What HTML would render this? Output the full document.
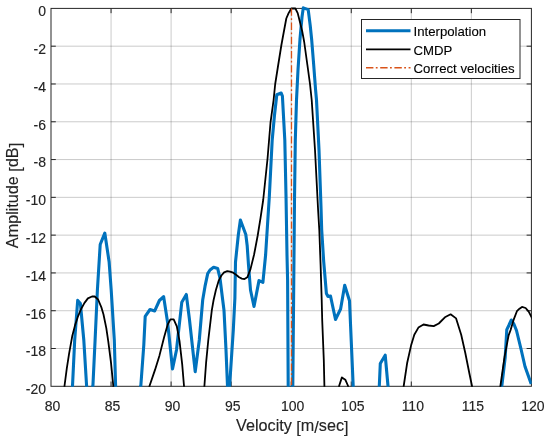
<!DOCTYPE html>
<html><head><meta charset="utf-8"><style>
html,body{margin:0;padding:0;background:#fff;}
svg{display:block;font-family:"Liberation Sans",Arial,Helvetica,sans-serif;}
text{stroke:currentColor;stroke-width:0.12px;}
</style></head><body>
<svg width="550" height="441" viewBox="0 0 550 441">
<rect width="550" height="441" fill="#fff"/>
<g stroke="#262626" stroke-opacity="0.24" stroke-width="1"><line x1="111.05" y1="8.4" x2="111.05" y2="386.3"/><line x1="171.10" y1="8.4" x2="171.10" y2="386.3"/><line x1="231.15" y1="8.4" x2="231.15" y2="386.3"/><line x1="291.20" y1="8.4" x2="291.20" y2="386.3"/><line x1="351.25" y1="8.4" x2="351.25" y2="386.3"/><line x1="411.30" y1="8.4" x2="411.30" y2="386.3"/><line x1="471.35" y1="8.4" x2="471.35" y2="386.3"/><line x1="51.0" y1="46.19" x2="531.4" y2="46.19"/><line x1="51.0" y1="83.98" x2="531.4" y2="83.98"/><line x1="51.0" y1="121.77" x2="531.4" y2="121.77"/><line x1="51.0" y1="159.56" x2="531.4" y2="159.56"/><line x1="51.0" y1="197.35" x2="531.4" y2="197.35"/><line x1="51.0" y1="235.14" x2="531.4" y2="235.14"/><line x1="51.0" y1="272.93" x2="531.4" y2="272.93"/><line x1="51.0" y1="310.72" x2="531.4" y2="310.72"/><line x1="51.0" y1="348.51" x2="531.4" y2="348.51"/></g>
<g stroke="#262626" stroke-width="1.0"><line x1="111.05" y1="386.3" x2="111.05" y2="381.50"/><line x1="111.05" y1="8.4" x2="111.05" y2="13.20"/><line x1="171.10" y1="386.3" x2="171.10" y2="381.50"/><line x1="171.10" y1="8.4" x2="171.10" y2="13.20"/><line x1="231.15" y1="386.3" x2="231.15" y2="381.50"/><line x1="231.15" y1="8.4" x2="231.15" y2="13.20"/><line x1="291.20" y1="386.3" x2="291.20" y2="381.50"/><line x1="291.20" y1="8.4" x2="291.20" y2="13.20"/><line x1="351.25" y1="386.3" x2="351.25" y2="381.50"/><line x1="351.25" y1="8.4" x2="351.25" y2="13.20"/><line x1="411.30" y1="386.3" x2="411.30" y2="381.50"/><line x1="411.30" y1="8.4" x2="411.30" y2="13.20"/><line x1="471.35" y1="386.3" x2="471.35" y2="381.50"/><line x1="471.35" y1="8.4" x2="471.35" y2="13.20"/><line x1="51.0" y1="46.19" x2="55.80" y2="46.19"/><line x1="531.4" y1="46.19" x2="526.60" y2="46.19"/><line x1="51.0" y1="83.98" x2="55.80" y2="83.98"/><line x1="531.4" y1="83.98" x2="526.60" y2="83.98"/><line x1="51.0" y1="121.77" x2="55.80" y2="121.77"/><line x1="531.4" y1="121.77" x2="526.60" y2="121.77"/><line x1="51.0" y1="159.56" x2="55.80" y2="159.56"/><line x1="531.4" y1="159.56" x2="526.60" y2="159.56"/><line x1="51.0" y1="197.35" x2="55.80" y2="197.35"/><line x1="531.4" y1="197.35" x2="526.60" y2="197.35"/><line x1="51.0" y1="235.14" x2="55.80" y2="235.14"/><line x1="531.4" y1="235.14" x2="526.60" y2="235.14"/><line x1="51.0" y1="272.93" x2="55.80" y2="272.93"/><line x1="531.4" y1="272.93" x2="526.60" y2="272.93"/><line x1="51.0" y1="310.72" x2="55.80" y2="310.72"/><line x1="531.4" y1="310.72" x2="526.60" y2="310.72"/><line x1="51.0" y1="348.51" x2="55.80" y2="348.51"/><line x1="531.4" y1="348.51" x2="526.60" y2="348.51"/></g>
<rect x="51.0" y="8.4" width="480.40" height="377.90" fill="none" stroke="#262626" stroke-width="1.0"/>
<defs><clipPath id="c"><rect x="50.70" y="5.40" width="481.00" height="381.40"/></clipPath></defs>
<g clip-path="url(#c)"><path d="M70.8,410.0 L72.5,386.0 L74.7,340.0 L77.7,300.4 L80.4,303.6 L83.8,340.0 L86.6,386.0 L89.7,410.0 L89.8,410.0 L92.9,386.0 L95.1,340.0 L97.4,290.0 L100.2,244.5 L104.8,233.1 L109.1,261.7 L111.2,290.0 L114.3,340.0 L115.6,386.0 L117.0,410.0 L138.5,410.0 L140.8,386.0 L143.8,345.0 L145.2,316.3 L150.0,309.5 L154.7,310.9 L159.4,300.5 L163.6,296.6 L167.7,323.1 L172.5,369.0 L176.5,350.0 L181.8,302.2 L186.3,294.5 L189.4,319.0 L195.2,371.7 L199.3,340.0 L202.7,300.0 L205.0,286.4 L207.7,273.6 L210.0,270.0 L213.6,267.3 L217.7,268.6 L220.0,278.2 L222.7,300.0 L224.0,310.4 L226.0,350.0 L227.5,386.0 L228.6,400.0 L229.6,386.0 L233.3,330.0 L234.9,298.0 L235.5,262.0 L238.3,235.0 L240.4,220.0 L245.8,234.5 L247.2,245.8 L248.5,265.0 L250.5,290.0 L254.0,306.5 L259.0,280.6 L262.9,282.4 L265.6,255.0 L267.5,225.0 L269.3,197.0 L272.2,140.0 L274.5,115.0 L276.8,94.8 L281.2,93.0 L282.4,96.0 L284.8,140.0 L286.0,195.0 L287.0,255.0 L287.6,280.0 L288.2,386.0 L290.5,400.0 L292.8,386.0 L293.5,310.0 L294.0,255.0 L294.5,200.0 L295.3,140.0 L296.5,100.0 L298.0,70.0 L300.0,39.0 L302.0,17.0 L303.3,7.9 L308.2,9.6 L310.2,25.4 L311.7,40.0 L313.7,65.0 L315.6,90.0 L316.5,100.0 L319.0,150.0 L321.0,207.0 L321.7,230.0 L323.7,261.7 L326.4,293.5 L328.0,296.5 L330.5,296.0 L335.5,319.5 L340.6,309.0 L344.7,285.2 L349.5,300.8 L353.2,386.0 L354.0,400.0" fill="none" stroke="#0072BD" stroke-width="3.1" stroke-linejoin="round"/><path d="M378.8,400.0 L379.3,386.0 L380.3,363.5 L385.2,355.2 L388.0,386.0 L388.5,400.0" fill="none" stroke="#0072BD" stroke-width="3.1" stroke-linejoin="round"/><path d="M501.3,400.0 L501.8,386.0 L505.2,357.2 L506.8,329.6 L508.8,325.5 L511.3,320.0 L513.9,324.0 L516.5,330.5 L521.0,349.0 L525.0,366.5 L531.2,384.0" fill="none" stroke="#0072BD" stroke-width="3.1" stroke-linejoin="round"/><path d="M64.0,400.0 L64.5,386.0 L66.8,368.3 L69.1,353.6 L72.2,336.3 L75.0,325.4 L77.7,317.2 L81.1,309.0 L84.5,302.9 L87.9,298.4 L92.0,296.5 L94.7,296.5 L98.1,299.5 L101.5,307.7 L103.5,314.5 L106.3,328.1 L108.3,341.7 L111.0,362.7 L113.3,386.0 L114.0,400.0" fill="none" stroke="#000" stroke-width="1.8" stroke-linejoin="round"/><path d="M148.0,400.0 L149.5,386.0 L155.0,369.9 L159.5,355.4 L164.1,337.2 L167.7,324.5 L170.4,319.4 L173.7,319.4 L176.8,326.3 L179.5,340.9 L182.2,364.4 L184.0,386.0 L184.5,400.0" fill="none" stroke="#000" stroke-width="1.8" stroke-linejoin="round"/><path d="M203.5,400.0 L204.4,386.0 L206.1,362.7 L208.3,340.0 L211.8,310.4 L213.6,300.0 L215.9,290.0 L218.6,280.9 L221.4,275.5 L224.1,272.3 L227.3,271.1 L230.0,271.6 L233.2,272.7 L236.4,275.0 L239.1,277.3 L241.8,278.6 L244.5,279.1 L247.3,277.3 L250.5,269.1 L254.1,254.5 L257.7,235.5 L260.5,218.2 L263.2,200.0 L267.5,159.0 L270.5,122.7 L273.6,100.0 L275.2,84.0 L278.2,65.0 L281.4,45.0 L283.6,33.0 L286.3,18.5 L288.6,13.1 L291.3,8.5 L295.4,8.5 L297.7,13.1 L299.5,20.3 L302.2,31.2 L304.2,42.0 L307.4,65.0 L310.0,84.0 L311.7,100.0 L315.0,150.0 L318.1,210.0 L319.3,230.0 L320.6,265.0 L321.7,300.0 L322.2,320.0 L323.8,360.0 L324.4,386.0 L325.0,400.0" fill="none" stroke="#000" stroke-width="1.8" stroke-linejoin="round"/><path d="M338.5,400.0 L339.1,386.0 L341.9,377.4 L345.3,379.7 L348.1,386.0 L349.0,400.0" fill="none" stroke="#000" stroke-width="1.8" stroke-linejoin="round"/><path d="M403.0,400.0 L403.7,386.0 L407.1,363.3 L411.2,344.9 L414.3,334.7 L418.4,327.6 L423.5,324.5 L428.6,325.5 L433.7,326.1 L438.8,323.5 L444.9,317.3 L450.6,314.3 L456.1,318.4 L461.2,334.7 L465.3,353.0 L469.4,373.5 L472.0,386.0 L473.0,400.0" fill="none" stroke="#000" stroke-width="1.8" stroke-linejoin="round"/><path d="M499.5,400.0 L500.4,386.0 L504.5,357.2 L508.6,335.4 L510.6,330.0 L513.4,320.4 L516.9,311.2 L519.5,308.7 L522.0,306.9 L525.6,308.0 L528.7,311.7 L531.4,316.8 L533.0,320.0" fill="none" stroke="#000" stroke-width="1.8" stroke-linejoin="round"/><line x1="291.5" y1="8.4" x2="291.5" y2="386.3" stroke="#D95319" stroke-width="1.3" stroke-dasharray="7.4,2.4,1.8,2.6"/></g>
<g font-size="14" fill="#262626"><text x="52.5" y="410.5" text-anchor="middle">80</text><text x="112.5" y="410.5" text-anchor="middle">85</text><text x="172.6" y="410.5" text-anchor="middle">90</text><text x="232.7" y="410.5" text-anchor="middle">95</text><text x="292.7" y="410.5" text-anchor="middle">100</text><text x="352.8" y="410.5" text-anchor="middle">105</text><text x="412.8" y="410.5" text-anchor="middle">110</text><text x="472.9" y="410.5" text-anchor="middle">115</text><text x="532.9" y="410.5" text-anchor="middle">120</text><text x="46" y="16.2" text-anchor="end">0</text><text x="46" y="54.0" text-anchor="end">-2</text><text x="46" y="91.8" text-anchor="end">-4</text><text x="46" y="129.6" text-anchor="end">-6</text><text x="46" y="167.4" text-anchor="end">-8</text><text x="46" y="205.2" text-anchor="end">-10</text><text x="46" y="242.9" text-anchor="end">-12</text><text x="46" y="280.7" text-anchor="end">-14</text><text x="46" y="318.5" text-anchor="end">-16</text><text x="46" y="356.3" text-anchor="end">-18</text><text x="46" y="394.1" text-anchor="end">-20</text></g>
<text x="292.3" y="430.5" text-anchor="middle" font-size="16.2" fill="#262626">Velocity <tspan dy="2.8">[</tspan><tspan dy="-2.8">m</tspan><tspan dy="2.8">/</tspan><tspan dy="-2.8">sec</tspan><tspan dy="2.8">]</tspan></text>
<text transform="translate(18.1,195.5) rotate(-90)" text-anchor="middle" font-size="16.2" fill="#262626">Amplitude <tspan dy="2.8">[</tspan><tspan dy="-2.8">dB</tspan><tspan dy="2.8">]</tspan></text>
<rect x="361.5" y="19.5" width="158.5" height="59.0" fill="#fff" stroke="#262626" stroke-width="1"/><line x1="366" y1="30.7" x2="410.5" y2="30.7" stroke="#0072BD" stroke-width="3.1"/><line x1="366" y1="49.4" x2="410.5" y2="49.4" stroke="#000" stroke-width="1.8"/><line x1="366" y1="67.8" x2="410.5" y2="67.8" stroke="#D95319" stroke-width="1.5" stroke-dasharray="7.4,2.4,1.8,2.6"/><text x="413.5" y="36.1" font-size="13.2" fill="#000">Interpolation</text><text x="413.5" y="54.8" font-size="13.2" fill="#000">CMDP</text><text x="413.5" y="73.2" font-size="13.2" fill="#000">Correct velocities</text>
</svg>
</body></html>
